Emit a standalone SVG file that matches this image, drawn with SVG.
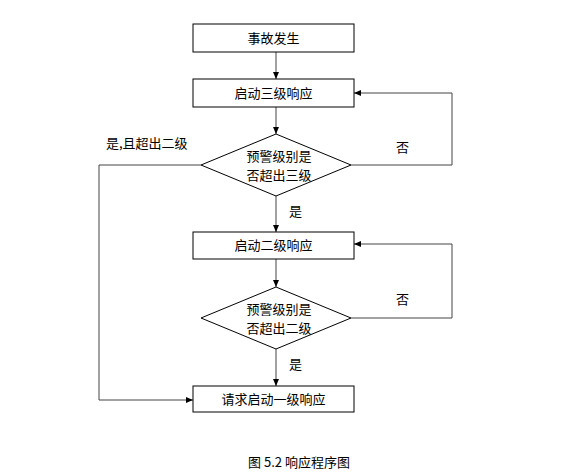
<svg xmlns="http://www.w3.org/2000/svg" width="586" height="475" viewBox="0 0 586 475">
<style>
.n{fill:#fff;stroke:#000;stroke-width:1}
.t{font-family:"Noto Sans CJK SC","Liberation Sans",sans-serif;font-size:13px;fill:#000}
.c{fill:none;stroke:#444;stroke-width:1}
</style>
<defs>
<marker id="a" markerWidth="7" markerHeight="6" refX="7" refY="3" orient="auto" markerUnits="userSpaceOnUse">
<path d="M0,0 L7,3 L0,6 Z" fill="#000"/>
</marker>
</defs>
<rect width="586" height="475" fill="#fff"/>
<g id="connectors">
<line class="c" x1="276" y1="52" x2="276" y2="79" marker-end="url(#a)"/>
<line class="c" x1="276" y1="107" x2="276" y2="134" marker-end="url(#a)"/>
<line class="c" x1="276" y1="196" x2="276" y2="232" marker-end="url(#a)"/>
<line class="c" x1="276" y1="259" x2="276" y2="287" marker-end="url(#a)"/>
<line class="c" x1="276" y1="349" x2="276" y2="386" marker-end="url(#a)"/>
<polyline class="c" points="351,165 452,165 452,93 354,93" marker-end="url(#a)"/>
<polyline class="c" points="351,318 452,318 452,244 354,244" marker-end="url(#a)"/>
<polyline class="c" points="201,165 99,165 99,400 193,400" marker-end="url(#a)"/>
<text class="t" x="106" y="148">是,且超出二级</text>
<text class="t" x="396" y="152">否</text>
<text class="t" x="289" y="216">是</text>
<text class="t" x="396" y="304">否</text>
<text class="t" x="289" y="369">是</text>
</g>
<g id="n1"><rect class="n" x="193" y="24" width="161" height="28"/><text class="t" x="273.5" y="43" text-anchor="middle">事故发生</text></g>
<g id="n2"><rect class="n" x="193" y="79" width="161" height="28"/><text class="t" x="273.5" y="98" text-anchor="middle">启动三级响应</text></g>
<g id="n3"><polygon class="n" points="276,134 351,165 276,196 201,165"/><text class="t" x="279" y="161" text-anchor="middle">预警级别是</text><text class="t" x="279" y="180" text-anchor="middle">否超出三级</text></g>
<g id="n4"><rect class="n" x="193" y="232" width="161" height="27"/><text class="t" x="273.5" y="250" text-anchor="middle">启动二级响应</text></g>
<g id="n5"><polygon class="n" points="276,287 351,318 276,349 201,318"/><text class="t" x="279" y="314" text-anchor="middle">预警级别是</text><text class="t" x="279" y="333" text-anchor="middle">否超出二级</text></g>
<g id="n6"><rect class="n" x="193" y="386" width="161" height="26"/><text class="t" x="273.5" y="404" text-anchor="middle">请求启动一级响应</text></g>
<text class="t" x="299" y="467" text-anchor="middle" xml:space="preserve">图 5.2 响应程序图</text>
</svg>
